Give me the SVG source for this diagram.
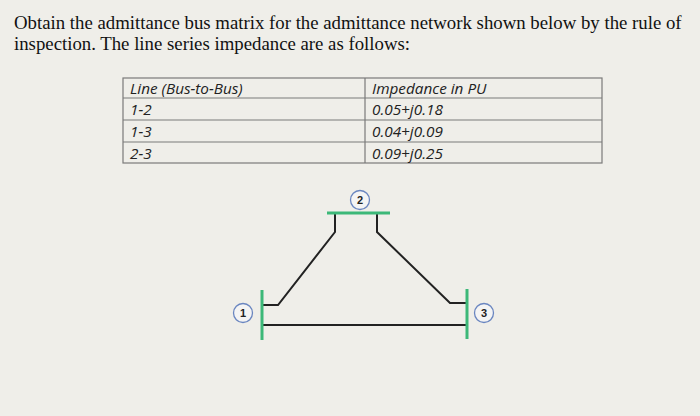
<svg xmlns="http://www.w3.org/2000/svg" width="700" height="416" viewBox="0 0 700 416">
<style>
.t{font-family:"Liberation Serif",serif;font-size:18.8px;fill:#111}
.c{font-family:"Open Sans","Liberation Sans",sans-serif;font-style:italic;font-size:15.3px;fill:#222}
.g{stroke:#7a7a7a;stroke-width:1.2;fill:none}
.bus{stroke:#3cb878;stroke-width:3}
.ln{stroke:#222;stroke-width:2;fill:none}
.cir{fill:#f4f4f4;stroke:#6a86c0;stroke-width:1.3}
.n{font-family:"Liberation Sans",sans-serif;font-weight:bold;font-size:11px;fill:#222;text-anchor:middle}
</style>
<rect width="700" height="416" fill="#efeee9"/>
<text class="t" x="14" y="29">Obtain the admittance bus matrix for the admittance network shown below by the rule of</text>
<text class="t" x="14" y="50">inspection. The line series impedance are as follows:</text>
<g id="table">
<rect class="g" x="123" y="78" width="479" height="85" fill="#f2f2ef"/>
<line class="g" x1="123" y1="98" x2="602" y2="98"/>
<line class="g" x1="123" y1="120" x2="602" y2="120"/>
<line class="g" x1="123" y1="142" x2="602" y2="142"/>
<line class="g" x1="365" y1="78" x2="365" y2="163"/>
<text class="c" x="130" y="94">Line (Bus-to-Bus)</text>
<text class="c" x="130" y="115">1-2</text>
<text class="c" x="130" y="137">1-3</text>
<text class="c" x="130" y="159">2-3</text>
<text class="c" x="372" y="94">Impedance in PU</text>
<text class="c" x="372" y="115">0.05+j0.18</text>
<text class="c" x="372" y="137">0.04+j0.09</text>
<text class="c" x="372" y="159">0.09+j0.25</text>
</g>
<g id="connectors">
<polyline class="ln" points="335,213 335,232 278,305 262,305"/>
<polyline class="ln" points="377,213 377,232 450,303 467,303"/>
<line class="ln" x1="262" y1="325" x2="467" y2="325"/>
</g>
<g id="bus2"><line class="bus" x1="327" y1="213" x2="390" y2="213"/><circle class="cir" cx="360" cy="200" r="9.5"/><text class="n" x="360" y="204">2</text></g>
<g id="bus1"><line class="bus" x1="262" y1="290" x2="262" y2="340"/><circle class="cir" cx="243" cy="313" r="9.5"/><text class="n" x="243" y="317">1</text></g>
<g id="bus3"><line class="bus" x1="467" y1="289" x2="467" y2="339"/><circle class="cir" cx="484" cy="313" r="9.5"/><text class="n" x="484" y="317">3</text></g>
</svg>
